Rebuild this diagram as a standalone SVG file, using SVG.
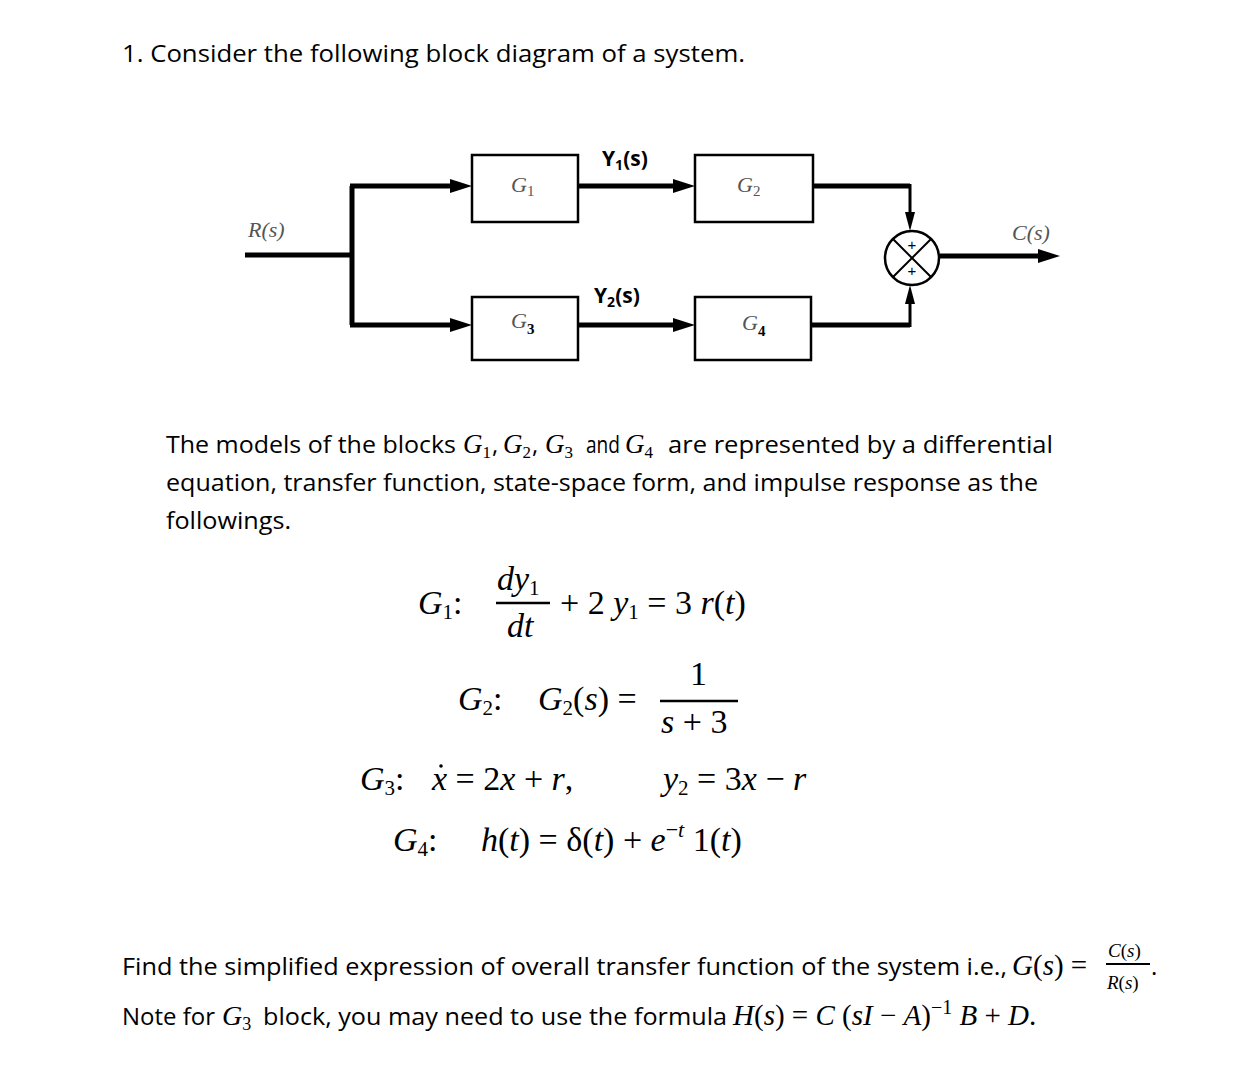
<svg xmlns="http://www.w3.org/2000/svg" width="1242" height="1066" viewBox="0 0 1242 1066">
<defs>
<style>
.t{font-family:"Open Sans","Noto Sans",sans-serif;font-size:24px;fill:#000}
.m{font-family:"Liberation Serif",serif;font-style:italic;fill:#000}
.mr{font-family:"Liberation Serif",serif;font-style:normal;fill:#000}
.b{fill:#fff;stroke:#000;stroke-width:2.5}
.bl{font-family:"Liberation Serif",serif;font-size:22px;font-style:italic;fill:#555}
.c{fill:none;stroke:#000;stroke-width:5}
.c2{fill:none;stroke:#000;stroke-width:3}
.ah{fill:#000}
</style>
</defs>
<rect width="1242" height="1066" fill="#fff"/>
<text class="t" x="122" y="62" textLength="623" lengthAdjust="spacingAndGlyphs">1.  Consider the following block diagram of a system.</text>
<g id="connectors">
<path class="c" d="M245,255 H352"/>
<path class="c" d="M352,186 V325"/>
<path class="c" d="M350,186 H452"/>
<polygon class="ah" points="450,179 472,186 450,193"/>
<path class="c" d="M350,325 H452"/>
<polygon class="ah" points="450,318 472,325 450,332"/>
<path class="c" d="M578,186 H675"/>
<polygon class="ah" points="673,179 695,186 673,193"/>
<path class="c" d="M578,325 H675"/>
<polygon class="ah" points="673,318 695,325 673,332"/>
<path class="c" d="M813,186 H910"/>
<path class="c2" d="M910,184 V215"/>
<polygon class="ah" points="905,212 910,231 915,212"/>
<path class="c" d="M811,325 H910"/>
<path class="c2" d="M910,327 V303"/>
<polygon class="ah" points="905,304 910,285 915,304"/>
<path class="c" d="M940,256 H1040"/>
<polygon class="ah" points="1038,249 1060,256 1038,263"/>
</g>
<g id="G1"><rect class="b" x="472" y="155" width="106" height="67"/><text class="bl" x="511" y="192">G<tspan font-size="15" font-style="normal" dy="4">1</tspan></text></g>
<g id="G2"><rect class="b" x="695" y="155" width="118" height="67"/><text class="bl" x="737" y="192">G<tspan font-size="15" font-style="normal" dy="4">2</tspan></text></g>
<g id="G3"><rect class="b" x="472" y="297" width="106" height="63"/><text class="bl" x="511" y="328">G<tspan font-size="15" font-style="normal" font-weight="bold" fill="#000" dy="6">3</tspan></text></g>
<g id="G4"><rect class="b" x="695" y="297" width="116" height="63"/><text class="bl" x="742" y="330">G<tspan font-size="15" font-style="normal" font-weight="bold" fill="#000" dy="6">4</tspan></text></g>
<g id="sum">
<circle cx="912" cy="258" r="27" fill="#fff" stroke="#000" stroke-width="2.5"/>
<path d="M893,239 L931,277 M931,239 L893,277" stroke="#000" stroke-width="2"/>
<text x="912" y="250" font-family="Liberation Sans,sans-serif" font-size="15" text-anchor="middle">+</text>
<text x="912" y="276" font-family="Liberation Sans,sans-serif" font-size="15" text-anchor="middle">+</text>
</g>
<g id="labels">
<text class="bl" x="248" y="237" fill="#333">R(s)</text>
<text class="bl" x="1012" y="240" fill="#333">C(s)</text>
<text x="602" y="166" font-family="Open Sans,sans-serif" font-size="21" font-weight="bold">Y<tspan font-size="14" dy="4">1</tspan><tspan dy="-4">(s)</tspan></text>
<text x="594" y="303" font-family="Open Sans,sans-serif" font-size="21" font-weight="bold">Y<tspan font-size="14" dy="4">2</tspan><tspan dy="-4">(s)</tspan></text>
</g>
<g id="para">
<text class="t" x="166" y="453" textLength="290" lengthAdjust="spacingAndGlyphs">The models of the blocks</text>
<text class="m" x="463" y="453" font-size="27">G<tspan class="mr" font-size="17" dy="5">1</tspan></text>
<text class="t" x="492" y="453">,</text>
<text class="m" x="503" y="453" font-size="27">G<tspan class="mr" font-size="17" dy="5">2</tspan></text>
<text class="t" x="532" y="453">,</text>
<text class="m" x="545" y="453" font-size="27">G<tspan class="mr" font-size="17" dy="5">3</tspan></text>
<text class="t" x="586" y="453" textLength="34" lengthAdjust="spacingAndGlyphs">and</text>
<text class="m" x="625" y="453" font-size="27">G<tspan class="mr" font-size="17" dy="5">4</tspan></text>
<text class="t" x="668" y="453" textLength="385" lengthAdjust="spacingAndGlyphs">are represented by a differential</text>
<text class="t" x="166" y="491" textLength="872" lengthAdjust="spacingAndGlyphs">equation, transfer function, state-space form, and impulse response as the</text>
<text class="t" x="166" y="529" textLength="125" lengthAdjust="spacingAndGlyphs">followings.</text>
</g>
<g id="eqs" font-size="34">
<text class="m" x="418" y="614">G<tspan class="mr" font-size="21" dy="5">1</tspan><tspan class="mr" dy="-5">:</tspan></text>
<text class="m" x="497" y="590">dy<tspan class="mr" font-size="21" dy="5">1</tspan></text>
<line x1="496" y1="603" x2="550" y2="603" stroke="#000" stroke-width="2.5"/>
<text class="m" x="507" y="637">dt</text>
<text class="mr" x="560" y="614">+ 2 <tspan class="m">y</tspan><tspan font-size="21" dy="5">1</tspan><tspan dy="-5"> = 3 </tspan><tspan class="m">r</tspan>(<tspan class="m">t</tspan>)</text>
<text class="m" x="458" y="710">G<tspan class="mr" font-size="21" dy="5">2</tspan><tspan class="mr" dy="-5">:</tspan></text>
<text class="m" x="538" y="710">G<tspan class="mr" font-size="21" dy="5">2</tspan><tspan class="mr" dy="-5">(</tspan>s<tspan class="mr">) =</tspan></text>
<text class="mr" x="690" y="685">1</text>
<line x1="660" y1="701" x2="738" y2="701" stroke="#000" stroke-width="2.5"/>
<text class="m" x="661" y="733">s<tspan class="mr"> + 3</tspan></text>
<text class="m" x="360" y="790">G<tspan class="mr" font-size="21" dy="5">3</tspan><tspan class="mr" dy="-5">:</tspan></text>
<text class="m" x="432" y="790">x<tspan class="mr"> = 2</tspan>x<tspan class="mr"> + </tspan>r<tspan class="mr">,</tspan></text>
<circle cx="441" cy="766" r="1.8" fill="#000"/>
<text class="m" x="663" y="790">y<tspan class="mr" font-size="21" dy="5">2</tspan><tspan class="mr" dy="-5"> = 3</tspan>x<tspan class="mr"> − </tspan>r</text>
<text class="m" x="393" y="851">G<tspan class="mr" font-size="21" dy="5">4</tspan><tspan class="mr" dy="-5">:</tspan></text>
<text class="m" x="481" y="851">h<tspan class="mr">(</tspan>t<tspan class="mr">) = δ(</tspan>t<tspan class="mr">) + </tspan>e<tspan class="mr" font-size="22" dy="-14">−</tspan><tspan font-size="22">t</tspan><tspan class="mr" dy="14"> 1(</tspan>t<tspan class="mr">)</tspan></text>
</g>
<g id="bottom">
<text class="t" x="122" y="975" textLength="885" lengthAdjust="spacingAndGlyphs">Find the simplified expression of overall transfer function of the system i.e.,</text>
<text class="m" x="1012" y="975" font-size="29">G<tspan class="mr">(</tspan>s<tspan class="mr">) =</tspan></text>
<text class="m" x="1108" y="957" font-size="19">C<tspan class="mr">(</tspan>s<tspan class="mr">)</tspan></text>
<line x1="1106" y1="964" x2="1150" y2="964" stroke="#000" stroke-width="2"/>
<text class="m" x="1107" y="989" font-size="19">R<tspan class="mr">(</tspan>s<tspan class="mr">)</tspan></text>
<text class="t" x="1151" y="975">.</text>
<text class="t" x="122" y="1025" textLength="93" lengthAdjust="spacingAndGlyphs">Note for</text>
<text class="m" x="222" y="1025" font-size="28">G<tspan class="mr" font-size="18" dy="5">3</tspan></text>
<text class="t" x="263" y="1025" textLength="464" lengthAdjust="spacingAndGlyphs">block, you may need to use the formula</text>
<text class="m" x="733" y="1025" font-size="29">H<tspan class="mr">(</tspan>s<tspan class="mr">) = </tspan>C<tspan class="mr"> (</tspan>sI<tspan class="mr"> − </tspan>A<tspan class="mr">)</tspan><tspan class="mr" font-size="20" dy="-11">−1</tspan><tspan dy="11"> B</tspan><tspan class="mr"> + </tspan>D<tspan class="mr">.</tspan></text>
</g>
</svg>
